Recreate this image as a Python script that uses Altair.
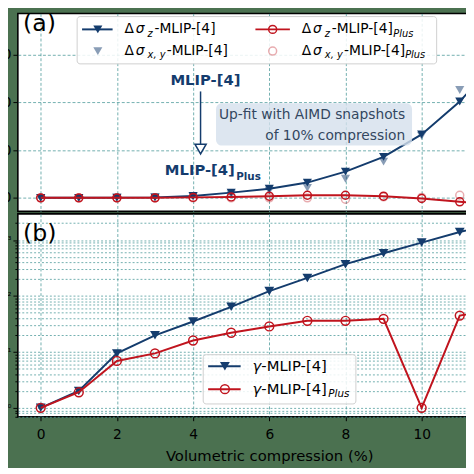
import altair as alt
import pandas as pd

# ---------------- data ----------------
compression = [0, 1, 2, 3, 4, 5, 6, 7, 8, 9, 10, 11, 12]
dsz_mlip = [0, 0, 0.05, 0.1, 0.4, 1.1, 1.9, 3.2, 5.5, 8.6, 13.3, 20.2, 29.0]
dsxy_mlip = [0, 0, 0.05, 0.1, 0.3, 0.7, 1.5, 2.1, 4.0, 7.6, 13.0, 22.6]
dsz_plus = [0, 0, 0, 0, 0.1, 0.2, 0.35, 0.55, 0.55, 0.35, -0.14, -0.83, -1.5]
dsxy_plus = [0, 0, 0, 0, 0, 0, 0.0, 0.0, -0.3, 0.2, 0.1, 0.55]
gamma_mlip = [1, 2.0, 9.4, 19.8, 35, 64, 122, 210, 370, 580, 900, 1390, 2000]
gamma_plus = [1, 1.9, 6.9, 9.4, 16, 22, 28.5, 36, 36, 39, 1.0, 44.6, 60]
x_ticks = [0, 2, 4, 6, 8, 10]
a_ticks = [0, 10, 20, 30]
b_ticks = [0.7, 0.8, 0.9] + [k * 10 ** e for e in range(0, 4) for k in range(1, 10)]
b_ticks = [t for t in b_ticks if t <= 2900]

# ---------------- style ----------------
NAVY = "#143c6d"
RED = "#c0141e"
BG = "#4b7150"
GRID = "#4f9b9b"
FONT = "DejaVu Sans"
W, HA, HB = 456, 201, 206
OX, OYA = 16.8, 8.8
OYB = OYA + HA + 2.2

ONE = pd.DataFrame({"k": [0]})


def frame(xs, vs):
    return pd.DataFrame({"x": xs[: len(vs)], "v": vs})


def txt(s, x, y, oy, size=14, style="normal", weight="normal", color="black", align="left"):
    return alt.Chart(ONE).mark_text(
        text=s, font=FONT, fontSize=size, fontStyle=style, fontWeight=weight,
        color=color, align=align, baseline="middle"
    ).encode(x=alt.value(x - OX), y=alt.value(y - oy))


def pt(x, y, oy, **kw):
    return alt.Chart(ONE).mark_point(**kw).encode(x=alt.value(x - OX), y=alt.value(y - oy))


def hline(x1, x2, y, oy, color, width=2):
    return alt.Chart(ONE).mark_rule(color=color, strokeWidth=width).encode(
        x=alt.value(x1 - OX), x2=alt.value(x2 - OX), y=alt.value(y - oy))


def box(x1, y1, x2, y2, oy, **kw):
    return alt.Chart(ONE).mark_rect(**kw).encode(
        x=alt.value(x1 - OX), x2=alt.value(x2 - OX),
        y=alt.value(y1 - oy), y2=alt.value(y2 - oy))


xscale = alt.Scale(domain=[-0.6, 11.19], nice=False, zero=False)

# ---------------- panel (a) ----------------
xa = alt.X("x:Q", scale=xscale,
           axis=alt.Axis(values=x_ticks, labels=False, ticks=False, domain=False,
                         title=None, grid=True))
ya = alt.Y("v:Q", scale=alt.Scale(domain=[-2.84, 38.66], nice=False, zero=False),
           axis=alt.Axis(values=a_ticks, title=None, tickSize=5, labelPadding=2,
                         labelFontSize=14, grid=True))

A = [
    alt.Chart(frame(compression, dsz_mlip)).mark_line(color=NAVY, strokeWidth=2, clip=True).encode(xa, ya),
    alt.Chart(frame(compression, dsz_mlip)).mark_point(shape="triangle-down", filled=True, size=85,
                                                       color=NAVY, opacity=1, clip=True).encode(xa, ya),
    alt.Chart(frame(compression, dsxy_mlip)).mark_point(shape="triangle-down", filled=True, size=85,
                                                        color=NAVY, opacity=0.5, clip=True).encode(xa, ya),
    alt.Chart(frame(compression, dsz_plus)).mark_line(color=RED, strokeWidth=2, clip=True).encode(xa, ya),
    alt.Chart(frame(compression, dsz_plus)).mark_point(shape="circle", filled=False, size=65, strokeWidth=1.5,
                                                       color=RED, opacity=1, clip=True).encode(xa, ya),
    alt.Chart(frame(compression, dsxy_plus)).mark_point(shape="circle", filled=False, size=65, strokeWidth=1.5,
                                                        color=RED, opacity=0.35, clip=True).encode(xa, ya),
]

# legend (a)
A += [
    box(77, 12, 442, 60, OYA, fill="white", fillOpacity=0.85, stroke="#cfcfcf", strokeWidth=1, cornerRadius=3),
    hline(82, 113, 25, OYA, NAVY),
    pt(98, 25, OYA, shape="triangle-down", filled=True, size=85, color=NAVY, opacity=1),
    pt(98, 47, OYA, shape="triangle-down", filled=True, size=85, color=NAVY, opacity=0.5),
    hline(258, 293, 25, OYA, RED),
    pt(275.5, 25, OYA, shape="circle", filled=False, size=65, strokeWidth=1.5, color=RED, opacity=1),
    pt(275.5, 47, OYA, shape="circle", filled=False, size=65, strokeWidth=1.5, color=RED, opacity=0.35),
]
for x0, y0, sub, rest_x, plus_x in [(125, 25, "z", 155.5, 398), (125, 47, "x, y", 168, 410),
                                    (305, 25, "z", 335.5, 398), (305, 47, "x, y", 348, 410)]:
    A += [
        txt("Δ", x0, y0, OYA, size=14),
        txt("σ", x0 + 11.5, y0, OYA, size=14, style="italic"),
        txt(sub, x0 + 23.5, y0 + 4.5, OYA, size=10, style="italic"),
        txt("-MLIP-[4]", rest_x, y0, OYA, size=14),
    ]
    if x0 > 200:
        A.append(txt("Plus", plus_x, y0 + 4.5, OYA, size=10, style="italic"))

# annotations (a)
A += [
    txt("(a)", 22, 20, OYA, size=24),
    txt("MLIP-[4]", 171.7, 76.7, OYA, size=15, weight="bold", color=NAVY),
    alt.Chart(ONE).mark_rule(color=NAVY, strokeWidth=1.5).encode(
        x=alt.value(202.3 - OX), y=alt.value(88 - OYA), y2=alt.value(142 - OYA)),
    pt(202.3, 146.5, OYA, shape="triangle-down", filled=True, fill="white", stroke=NAVY,
       strokeWidth=1.5, size=130, opacity=1),
    txt("MLIP-[4]", 166, 168, OYA, size=15, weight="bold", color=NAVY),
    txt("Plus", 238.5, 175, OYA, size=10.5, weight="bold", color=NAVY),
    box(218, 100, 417, 143, OYA, fill="#d5e0ec", fillOpacity=0.8, cornerRadius=6),
    txt("Up-fit with AIMD snapshots", 410, 111.7, OYA, size=14, color="#33475f", align="right"),
    txt("of 10% compression", 410, 133, OYA, size=14, color="#33475f", align="right"),
]

panel_a = alt.layer(*A).properties(width=W, height=HA)

# ---------------- panel (b) ----------------
label_expr = ("datum.value == 1 ? '10⁰' : datum.value == 10 ? '10¹' : "
              "datum.value == 100 ? '10²' : datum.value == 1000 ? '10³' : ''")
xb = alt.X("x:Q", scale=xscale,
           axis=alt.Axis(values=x_ticks, title="Volumetric compression (%)", grid=True,
                         tickSize=4, labelPadding=7, labelFontSize=14, titleFontSize=15,
                         titleFontWeight="normal", titleX=272 - OX, titleY=32,
                         titleBaseline="top", titleAlign="center"))
yb = alt.Y("v:Q", scale=alt.Scale(type="log", domain=[0.693, 2934], nice=False),
           axis=alt.Axis(values=b_ticks, title=None, labelExpr=label_expr, labelOverlap=False,
                         tickSize={"condition": {"test": "indexof([1, 10, 100, 1000], datum.value) >= 0",
                                                 "value": 5}, "value": 3},
                         labelFontSize=10, labelPadding=2, grid=True, gridDash=[2, 2]))

B = [
    alt.Chart(frame(compression, gamma_mlip)).mark_line(color=NAVY, strokeWidth=2, clip=True).encode(xb, yb),
    alt.Chart(frame(compression, gamma_mlip)).mark_point(shape="triangle-down", filled=True, size=100,
                                                         color=NAVY, opacity=1, clip=True).encode(xb, yb),
    alt.Chart(frame(compression, gamma_plus)).mark_line(color=RED, strokeWidth=2, clip=True).encode(xb, yb),
    alt.Chart(frame(compression, gamma_plus)).mark_point(shape="circle", filled=False, size=80, strokeWidth=1.5,
                                                         color=RED, opacity=1, clip=True).encode(xb, yb),
    box(205, 355, 360, 405, OYB, fill="white", fillOpacity=0.85, stroke="#cfcfcf", strokeWidth=1, cornerRadius=3),
    hline(210, 243, 366.7, OYB, NAVY),
    pt(227, 366.7, OYB, shape="triangle-down", filled=True, size=100, color=NAVY, opacity=1),
    hline(210, 243, 390, OYB, RED),
    pt(227, 390, OYB, shape="circle", filled=False, size=80, strokeWidth=1.5, color=RED, opacity=1),
    txt("γ", 255, 366.7, OYB, size=15, style="italic"),
    txt("-MLIP-[4]", 264, 366.7, OYB, size=15),
    txt("γ", 255, 390, OYB, size=15, style="italic"),
    txt("-MLIP-[4]", 264, 390, OYB, size=15),
    txt("Plus", 332, 394.5, OYB, size=10.5, style="italic"),
    txt("(b)", 22, 233, OYB, size=24),
]

panel_b = alt.layer(*B).properties(width=W, height=HB)

chart = alt.vconcat(panel_a, panel_b, spacing=0.5).properties(
    background=BG,
    padding={"left": -16, "top": 0, "right": -2, "bottom": 0},
).configure_view(
    fill="white", stroke="black", strokeWidth=1.6
).configure_axis(
    gridColor=GRID, gridDash=[3, 2], gridWidth=0.8, gridOpacity=1,
    labelFont=FONT, titleFont=FONT, labelColor="black", titleColor="black",
    tickColor="black", tickWidth=1, domain=False
)

chart.save("out.html", embed_options={"renderer": "svg", "actions": False})
